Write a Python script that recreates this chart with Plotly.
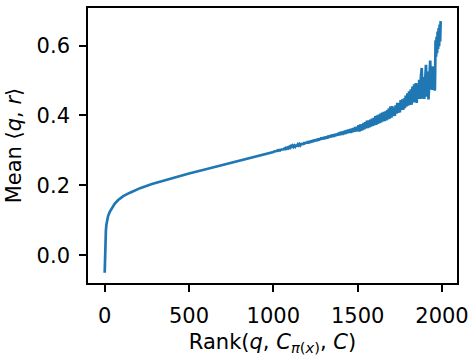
import plotly.graph_objects as go

# ---- data ----
rank_smooth = [0, 1, 2, 3, 4, 5, 7, 10, 14, 20, 30, 45, 60, 80, 110, 150, 210, 280,
               350, 410, 500, 600, 700, 800, 900, 1000]
mean_smooth = [-0.050, -0.020, 0.005, 0.025, 0.042, 0.055, 0.070, 0.087, 0.100, 0.112,
               0.124, 0.138, 0.148, 0.158, 0.169, 0.179, 0.192, 0.204, 0.214, 0.222,
               0.234, 0.246, 0.258, 0.270, 0.282, 0.295]

rank_mid = list(range(1005, 1705, 5))
mean_mid = [0.297, 0.297, 0.299, 0.298, 0.300, 0.299, 0.301, 0.300, 0.302, 0.302,
            0.304, 0.303, 0.305, 0.304, 0.307, 0.305, 0.308, 0.306, 0.310, 0.308,
            0.312, 0.308, 0.313, 0.310, 0.314, 0.311, 0.316, 0.312, 0.317, 0.314,
            0.318, 0.315, 0.320, 0.316, 0.321, 0.317, 0.323, 0.319, 0.324, 0.320,
            0.326, 0.320, 0.327, 0.322, 0.328, 0.323, 0.330, 0.325, 0.331, 0.326,
            0.332, 0.327, 0.334, 0.328, 0.335, 0.330, 0.337, 0.331, 0.338, 0.332,
            0.339, 0.333, 0.340, 0.334, 0.342, 0.336, 0.343, 0.337, 0.345, 0.338,
            0.346, 0.339, 0.347, 0.341, 0.348, 0.342, 0.350, 0.343, 0.352, 0.344,
            0.354, 0.344, 0.355, 0.346, 0.357, 0.347, 0.358, 0.349, 0.360, 0.350,
            0.361, 0.350, 0.363, 0.352, 0.364, 0.353, 0.367, 0.354, 0.368, 0.355,
            0.372, 0.354, 0.374, 0.356, 0.375, 0.358, 0.379, 0.360, 0.381, 0.363,
            0.385, 0.364, 0.386, 0.366, 0.388, 0.368, 0.391, 0.370, 0.393, 0.372,
            0.398, 0.373, 0.400, 0.376, 0.402, 0.378, 0.405, 0.380, 0.408, 0.383,
            0.410, 0.384, 0.412, 0.386, 0.415, 0.389, 0.420, 0.391, 0.426, 0.394]

rank_tail = list(range(1705, 1960, 5))
mean_tail = [0.427, 0.398, 0.422, 0.399, 0.429, 0.405, 0.436, 0.407, 0.436, 0.409,
             0.444, 0.416, 0.446, 0.416, 0.449, 0.421, 0.457, 0.426, 0.463, 0.428,
             0.469, 0.430, 0.475, 0.431, 0.483, 0.437, 0.489, 0.438, 0.493, 0.436,
             0.491, 0.447, 0.502, 0.447, 0.512, 0.536, 0.448, 0.510, 0.447, 0.520,
             0.545, 0.454, 0.526, 0.446, 0.532, 0.557, 0.474, 0.541, 0.473, 0.540,
             0.472]

rank_end = [1958, 1962, 1965, 1968, 1971, 1974, 1977, 1980, 1983, 1986, 1989, 1992, 1993]
mean_end = [0.475, 0.615, 0.568, 0.625, 0.578, 0.640, 0.590, 0.650, 0.598, 0.660,
            0.612, 0.668, 0.670]

x_ticks = [0, 500, 1000, 1500, 2000]
y_ticks = [0.0, 0.2, 0.4, 0.6]
y_tick_labels = ["0.0", "0.2", "0.4", "0.6"]

ranks = rank_smooth + rank_mid + rank_tail + rank_end
means = mean_smooth + mean_mid + mean_tail + mean_end

font = dict(family="DejaVu Sans", size=21, color="#000000")

fig = go.Figure()
fig.add_trace(go.Scatter(x=ranks, y=means, mode="lines",
                         line=dict(color="#1f77b4", width=2.7),
                         hoverinfo="skip", showlegend=False))

axis_common = dict(showgrid=False, zeroline=False, showline=True, linecolor="#000000",
                   linewidth=1.6, mirror=True, ticks="outside", ticklen=7, tickwidth=1.6,
                   tickcolor="#000000", tickfont=font, automargin=False)

fig.update_layout(
    width=474, height=356,
    margin=dict(l=88, r=17, t=8, b=73),
    paper_bgcolor="white", plot_bgcolor="white",
    font=font,
    xaxis=dict(range=[-99, 2089], tickvals=x_ticks, ticklabelstandoff=6,
               title=dict(text="Rank(<i>q</i>, <i>C</i><sub><i>π</i>(<i>x</i>)</sub>, <i>C</i>)",
                          font=font, standoff=7),
               **axis_common),
    yaxis=dict(range=[-0.0795, 0.7075], tickvals=y_ticks, ticktext=y_tick_labels,
               ticklabelstandoff=5,
               title=dict(text="Mean ⟨<i>q</i>, <i>r</i>⟩", font=font, standoff=9),
               **axis_common),
)

fig.write_html("out.html", config={"displayModeBar": False},
               post_script="document.body.style.margin='0';document.body.style.overflow='hidden';")
